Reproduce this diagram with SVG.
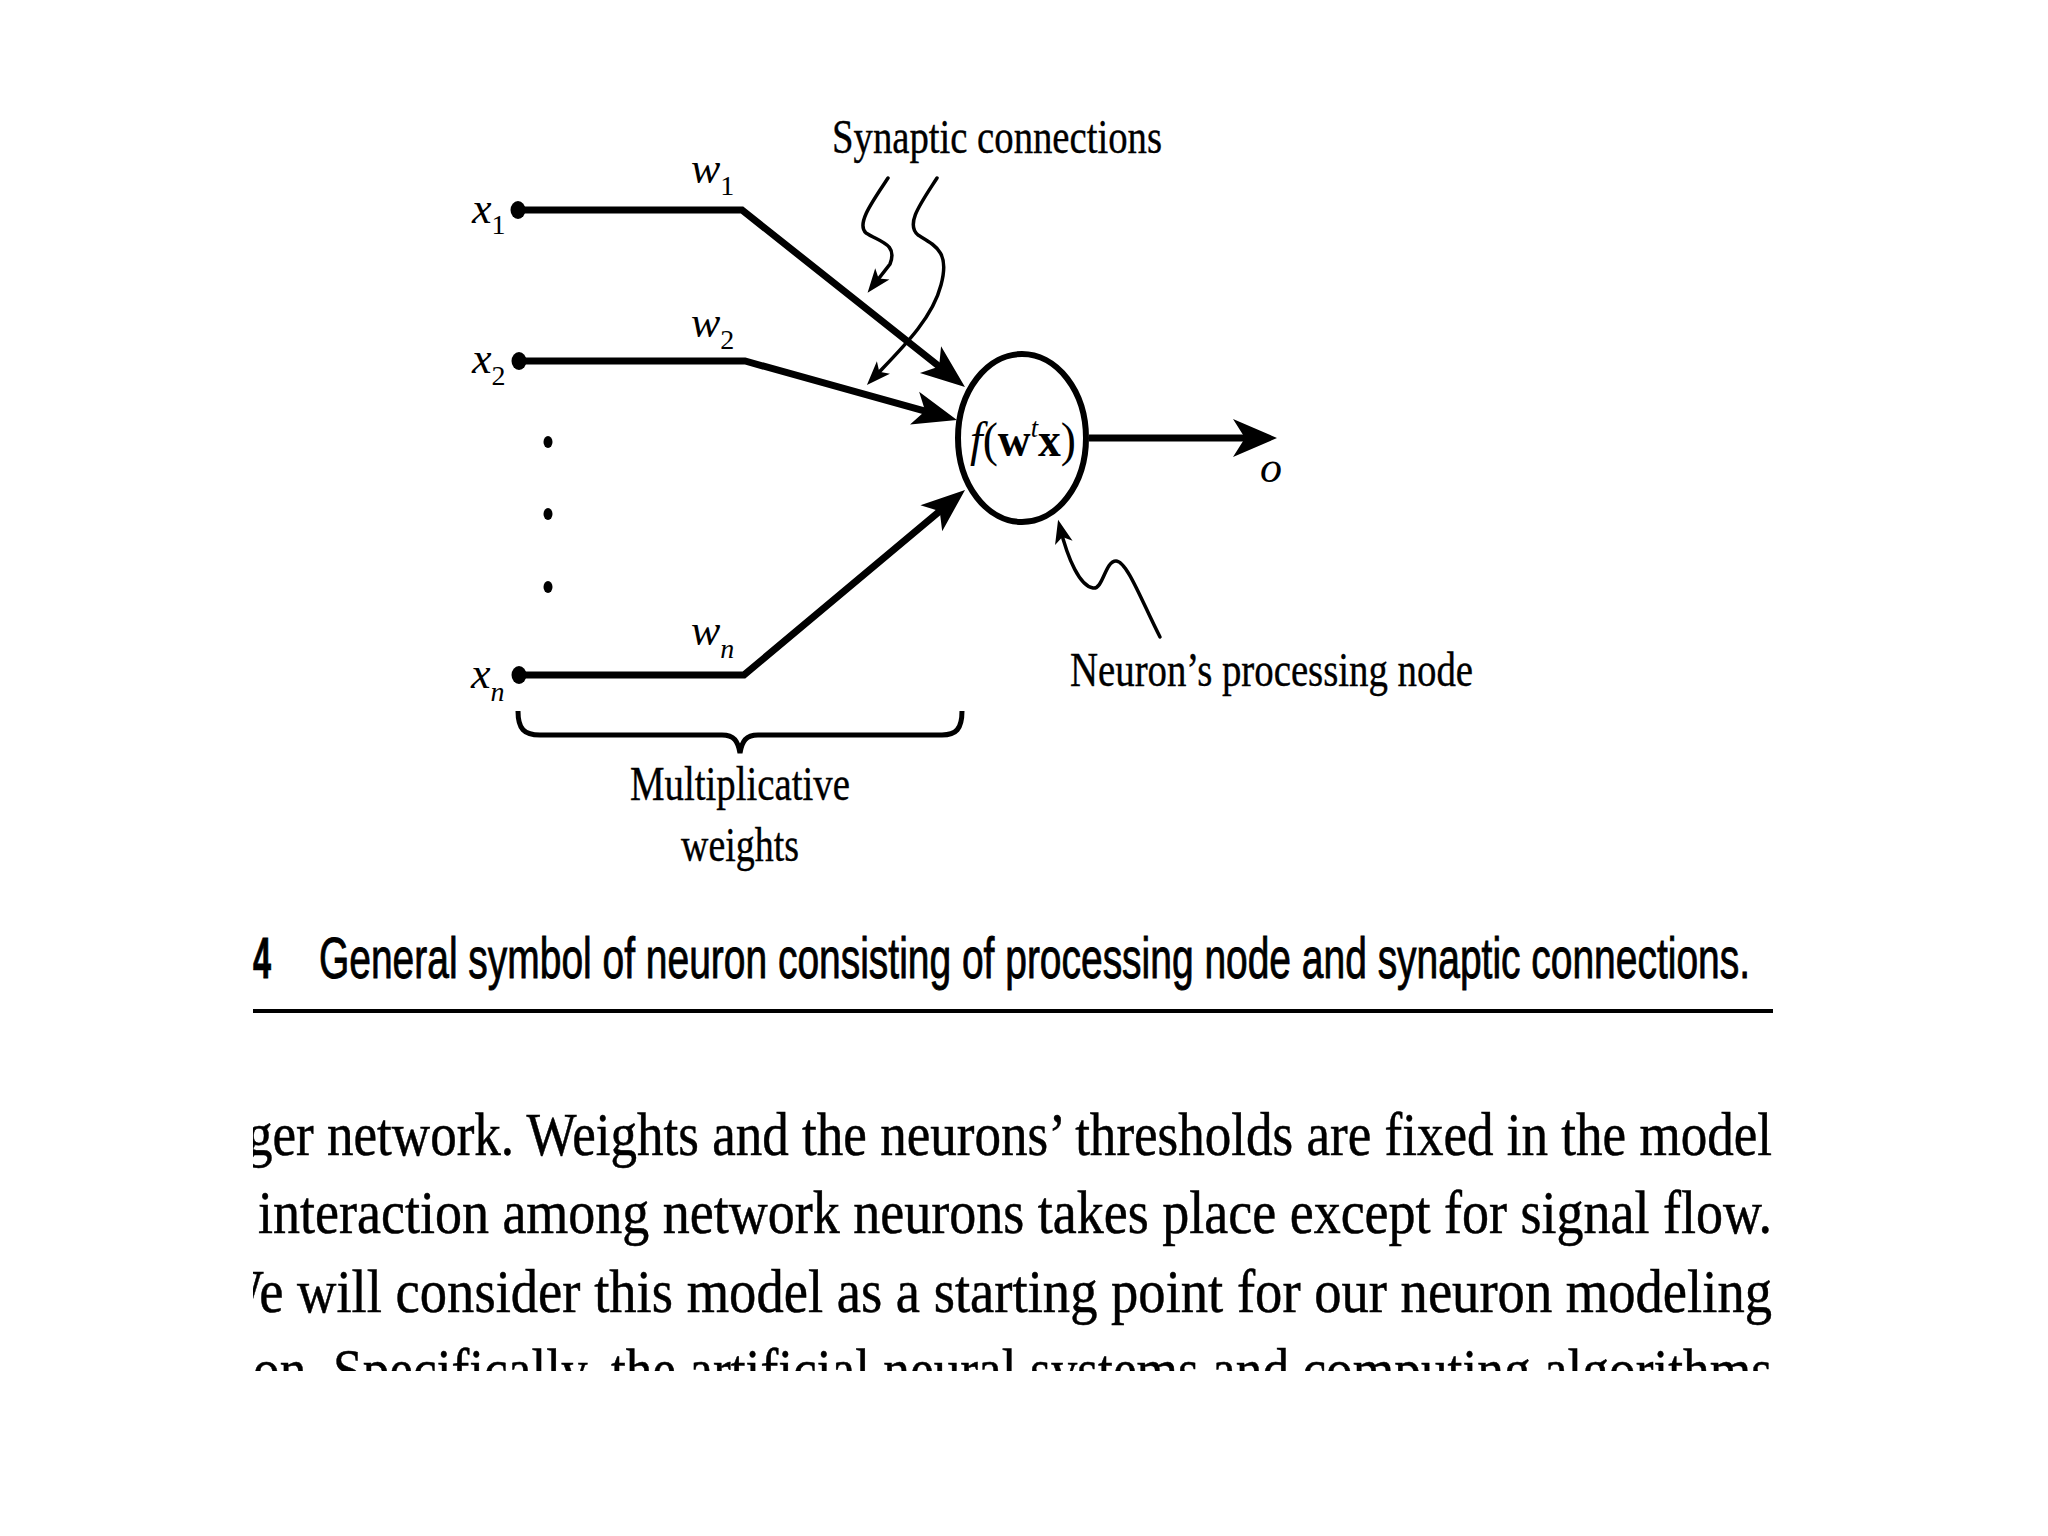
<svg xmlns="http://www.w3.org/2000/svg" width="2048" height="1536" viewBox="0 0 2048 1536">
<defs>
<style>
.serif{font-family:"Liberation Serif","Times New Roman",serif;fill:#000}
.lbl{font-family:"Liberation Serif","Times New Roman",serif;font-style:italic;font-size:44px;fill:#000}
.sub{font-size:28px}
.up{font-style:normal}
.wire{fill:none;stroke:#000;stroke-width:7;stroke-linejoin:miter}
.thin{fill:none;stroke:#000;stroke-width:3.5;stroke-linecap:round}
.cap{font-family:"Liberation Sans Narrow","Liberation Sans",Arial,sans-serif;font-size:57px;fill:#000;stroke:#000;stroke-width:0.9}
.body{font-family:"Liberation Serif","Times New Roman",serif;font-size:61px;fill:#000;stroke:#000;stroke-width:0.5}
</style>
<marker id="big" viewBox="-30 -22 60 44" refX="0" refY="0" markerWidth="60" markerHeight="44" markerUnits="userSpaceOnUse" orient="auto" overflow="visible">
<path d="M20,0 L-24,-17 L-13,0 L-24,17 Z" fill="#000"/>
</marker>
<marker id="out" viewBox="-30 -22 60 44" refX="0" refY="0" markerWidth="60" markerHeight="44" markerUnits="userSpaceOnUse" orient="auto" overflow="visible">
<path d="M20,0 L-24,-19 L-12,0 L-24,19 Z" fill="#000"/>
</marker>
<marker id="small" viewBox="-20 -12 32 24" refX="0" refY="0" markerWidth="32" markerHeight="24" markerUnits="userSpaceOnUse" orient="auto" overflow="visible">
<path d="M8,0 L-16,-9 L-10,0 L-16,9 Z" fill="#000"/>
</marker>
<clipPath id="pageclip"><rect x="253" y="1060" width="1530" height="311"/></clipPath>
</defs>
<rect width="2048" height="1536" fill="#fff"/>

<g id="connectors">
<path class="wire" d="M518,210 L742,210 L949.3,374.6" marker-end="url(#big)"/>
<path class="wire" d="M519,361 L745,361 L937.7,414.6" marker-end="url(#big)"/>
<path class="wire" d="M519,675 L744,675 L949.7,502.8" marker-end="url(#big)"/>
<path class="wire" d="M1089,438 L1257,438" marker-end="url(#out)"/>
<path class="thin" d="M888,178 C872,202 856,224 866,233 C880,242 898,244 890,264 L872.5,286.5" marker-end="url(#small)"/>
<path class="thin" d="M937,178 C921,203 905,224 918,235 C936,246 950,252 941,285 C932,320 900,350 872.4,379.1" marker-end="url(#small)"/>
<path class="thin" d="M1160,637 C1142,602 1127,561 1116,561 C1105,561 1103,590 1093,588 C1080,586 1068,560 1060,527.4" marker-end="url(#small)"/>
<path fill="none" stroke="#000" stroke-width="5" d="M518,711 C518,729 524,735 540,735 L722,735 C734,735 738,741 740,753 C742,741 746,735 758,735 L942,735 C956,735 962,729 962,711"/>
</g>

<g id="input-x1">
<ellipse cx="518" cy="210" rx="7.5" ry="9" fill="#000"/>
<text class="lbl" x="472" y="223">x<tspan class="sub up" dy="11">1</tspan></text>
</g>
<g id="input-x2">
<ellipse cx="519" cy="361" rx="7.5" ry="9" fill="#000"/>
<text class="lbl" x="472" y="373">x<tspan class="sub up" dy="12">2</tspan></text>
</g>
<g id="input-dots">
<ellipse cx="548" cy="442" rx="4.5" ry="6" fill="#000"/>
<ellipse cx="548" cy="514" rx="4.5" ry="6" fill="#000"/>
<ellipse cx="548" cy="587" rx="4.5" ry="6" fill="#000"/>
</g>
<g id="input-xn">
<ellipse cx="519" cy="675" rx="7.5" ry="9" fill="#000"/>
<text class="lbl" x="471" y="688">x<tspan class="sub" dy="13">n</tspan></text>
</g>
<g id="weight-w1"><text class="lbl" x="691" y="183">w<tspan class="sub up" dy="12">1</tspan></text></g>
<g id="weight-w2"><text class="lbl" x="691" y="337">w<tspan class="sub up" dy="12">2</tspan></text></g>
<g id="weight-wn"><text class="lbl" x="691" y="645">w<tspan class="sub" dy="13">n</tspan></text></g>

<g id="neuron">
<ellipse cx="1022" cy="438" rx="64" ry="84" fill="#fff" stroke="#000" stroke-width="6"/>
<text class="serif" x="1023" y="456" font-size="48" text-anchor="middle" textLength="106" lengthAdjust="spacingAndGlyphs"><tspan font-style="italic">f</tspan>(<tspan font-weight="bold">w</tspan><tspan font-style="italic" font-size="28" dy="-19">t</tspan><tspan font-weight="bold" dy="19">x</tspan>)</text>
</g>
<g id="output-o"><text class="lbl" x="1271" y="482" text-anchor="middle">o</text></g>

<g id="label-synaptic"><text class="serif" x="832" y="153" font-size="48" textLength="330" lengthAdjust="spacingAndGlyphs" stroke="#000" stroke-width="0.4">Synaptic connections</text></g>
<g id="label-node"><text class="serif" x="1070" y="686" font-size="48" textLength="403" lengthAdjust="spacingAndGlyphs" stroke="#000" stroke-width="0.4">Neuron’s processing node</text></g>
<g id="label-weights">
<text class="serif" x="740" y="800" font-size="48" text-anchor="middle" textLength="220" lengthAdjust="spacingAndGlyphs" stroke="#000" stroke-width="0.4">Multiplicative</text>
<text class="serif" x="740" y="861" font-size="48" text-anchor="middle" textLength="118" lengthAdjust="spacingAndGlyphs" stroke="#000" stroke-width="0.4">weights</text>
</g>

<g id="caption">
<text class="cap" x="253" y="978" font-weight="bold" textLength="18" lengthAdjust="spacingAndGlyphs">4</text>
<text class="cap" x="319" y="978" textLength="1431" lengthAdjust="spacingAndGlyphs">General symbol of neuron consisting of processing node and synaptic connections.</text>
<rect x="253" y="1009" width="1520" height="4" fill="#000"/>
</g>

<g id="body-text" clip-path="url(#pageclip)">
<text class="body" x="246" y="1155" textLength="1526" lengthAdjust="spacingAndGlyphs">ger network. Weights and the neurons’ thresholds are fixed in the model</text>
<text class="body" x="258" y="1233" textLength="1514" lengthAdjust="spacingAndGlyphs">interaction among network neurons takes place except for signal flow.</text>
<text class="body" x="212" y="1312" textLength="1560" lengthAdjust="spacingAndGlyphs">We will consider this model as a starting point for our neuron modeling</text>
<text class="body" x="253" y="1391" textLength="1519" lengthAdjust="spacingAndGlyphs">on. Specifically, the artificial neural systems and computing algorithms</text>
</g>
</svg>
